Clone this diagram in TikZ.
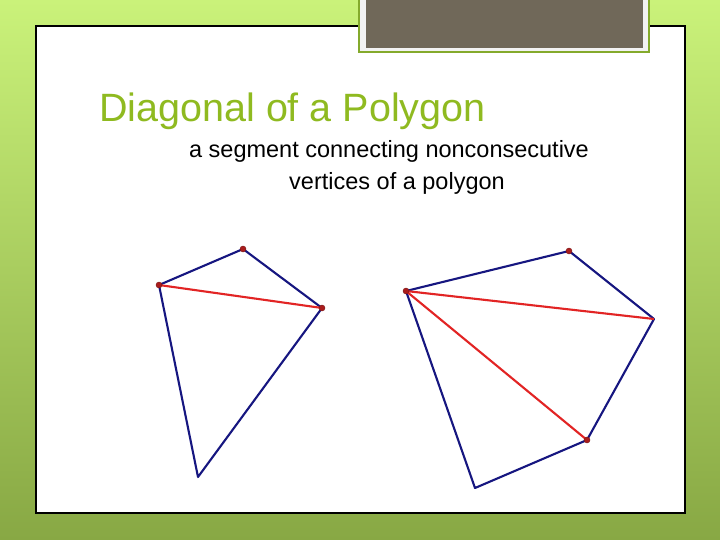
\documentclass[tikz,border=0pt]{standalone}
\usepackage{fontspec}
\setmainfont{Liberation Sans}
\usepackage{tikz}

\definecolor{titlegreen}{RGB}{143,186,32}
\definecolor{framegreen}{RGB}{132,170,44}
\definecolor{bgtop}{RGB}{202,242,122}
\definecolor{bgbot}{RGB}{136,168,68}
\definecolor{taupe}{RGB}{112,104,89}
\definecolor{sideblue}{RGB}{22,22,128}
\definecolor{diagred}{RGB}{226,36,36}
\definecolor{dotred}{RGB}{170,28,28}

\begin{document}
\begin{tikzpicture}[x=1pt,y=-1pt]

% Custom styles
    \tikzstyle{plain} = [draw=none, fill=none, inner sep=0pt]
    \tikzstyle{side} = [draw=sideblue, line width=2.1pt, line join=round]
    \tikzstyle{diag} = [draw=diagred, line width=2.1pt]
    \tikzstyle{vertex} = [circle, fill=dotred, draw=dotred!70!black, line width=0.4pt, inner sep=0pt, minimum size=6pt]

    \useasboundingbox (0,0) rectangle (720,540);

    % Slide background
    \shade[top color=bgtop, bottom color=bgbot] (0,0) rectangle (720,540);
    \draw[fill=white, line width=1.3pt] (36,26) rectangle (685,513);
    \draw[draw=framegreen, fill=white!95!black, line width=2.4pt] (359,-5) rectangle (649,52);
    \fill[taupe] (366,-5) rectangle (643,48);

    % Text
    \node[plain, anchor=base west, text=titlegreen, font=\fontsize{39.5}{46}\selectfont] (title) at (99,122) {Diagonal of a Polygon};
    \node[plain, anchor=base, font=\fontsize{23.5}{28}\selectfont] (line1) at (389,158) {a segment connecting nonconsecutive};
    \node[plain, anchor=base, font=\fontsize{23.5}{28}\selectfont] (line2) at (397,190) {vertices of a polygon};

    % Define vertices
    \coordinate (a) at (159,285);
    \coordinate (b) at (243,249);
    \coordinate (c) at (322,308);
    \coordinate (d) at (198,477);
    \coordinate (p) at (406,291);
    \coordinate (q) at (569,251);
    \coordinate (r) at (654,319);
    \coordinate (s) at (587,440);
    \coordinate (t) at (475,488);

    % Connect vertices
    \draw[side] (a) -- (b) -- (c) -- (d) -- cycle;
    \draw[side] (p) -- (q) -- (r) -- (s) -- (t) -- cycle;
    \draw[diag] (a) -- (c);
    \draw[diag] (p) -- (r);
    \draw[diag] (p) -- (s);

    % Marked points
    \foreach \v in {a, b, c, p, q, s}
        \node[vertex] at (\v) {};

\end{tikzpicture}
\end{document}
